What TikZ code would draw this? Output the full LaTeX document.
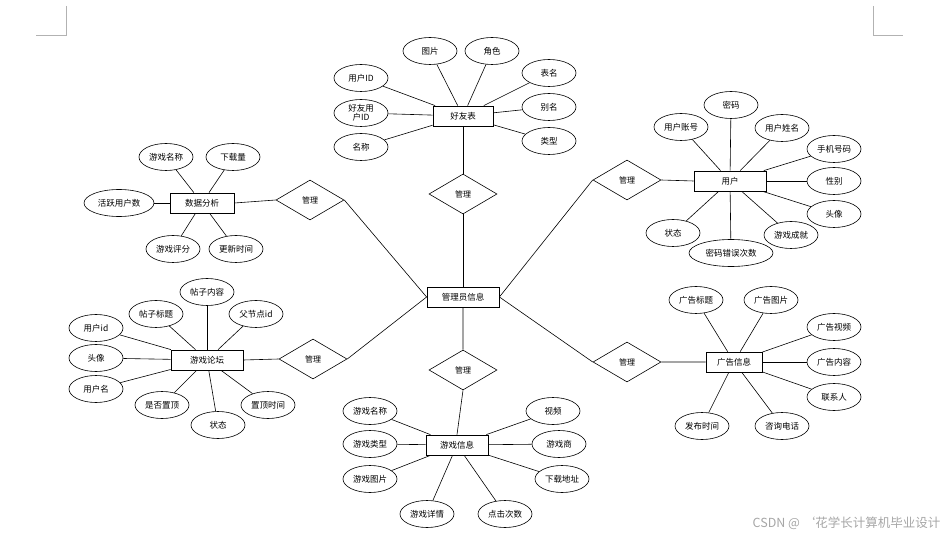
\documentclass[tikz,border=0pt]{standalone}
\usepackage{fontspec}
\setmainfont{Noto Sans CJK SC}
\usetikzlibrary{shapes.geometric}
\begin{document}
\begin{tikzpicture}[x=1pt,y=-1pt,
  ent/.style={draw,thick,fill=white,minimum height=20pt,inner sep=1pt,font=\fontsize{8.5}{9}\selectfont},
  rel/.style={draw,diamond,aspect=1.7,minimum width=68pt,minimum height=40pt,inner sep=0pt,font=\fontsize{8}{9}\selectfont},
  att/.style={draw,ellipse,minimum width=54pt,minimum height=27pt,inner sep=0pt,font=\fontsize{8.5}{9.5}\selectfont,align=center},
  every path/.style={line width=0.6pt}]
\useasboundingbox (0,0) rectangle (946,540);
\draw[gray!60] (66,6)--(66,35)--(36,35) (873,6)--(873,35)--(903,35);
% entities
\node[ent,minimum width=60pt] (hy) at (463,116) {好友表};
\node[ent,minimum width=72pt] (yh) at (730,181) {用户};
\node[ent,minimum width=64pt] (sj) at (202,203) {数据分析};
\node[ent,minimum width=72pt] (gl) at (463,297) {管理员信息};
\node[ent,minimum width=72pt] (lt) at (207,360) {游戏论坛};
\node[ent,minimum width=56pt] (gg) at (734,362) {广告信息};
\node[ent,minimum width=62pt] (yx) at (457,445) {游戏信息};
% relations
\node[rel] (r1) at (463,194) {管理};
\node[rel] (r2) at (627,180) {管理};
\node[rel] (r3) at (310,200) {管理};
\node[rel] (r4) at (313,359) {管理};
\node[rel] (r5) at (463,370) {管理};
\node[rel] (r6) at (627,362) {管理};
\draw (hy)--(r1)--(gl);
\draw (r5.north)--(gl.south) (r5.south)--(yx.north);
\draw (sj.east)--(r3.west) (r3.east)--(gl.west);
\draw (lt.east)--(r4.west) (r4.east)--(gl.west);
\draw (yh.west)--(r2.east) (r2.west)--(gl.east);
\draw (gg.west)--(r6.east) (r6.west)--(gl.east);
% attributes
\foreach \n/\p/\t/\e in {
 a1/{(430,51)}/图片/hy, a2/{(492,51)}/角色/hy, a3/{(361,78)}/用户ID/hy, a4/{(361,113)}/{好友用\\户ID}/hy,
 a5/{(361,147)}/名称/hy, a6/{(549,73)}/表名/hy, a7/{(549,107)}/别名/hy, a8/{(549,141)}/类型/hy,
 b1/{(681,127)}/用户账号/yh, b2/{(731,105)}/密码/yh, b3/{(782,128)}/用户姓名/yh, b4/{(834,149)}/手机号码/yh,
 b5/{(834,181)}/性别/yh, b6/{(834,214)}/头像/yh, b7/{(673,233)}/状态/yh, b9/{(791,235)}/游戏成就/yh,
 c1/{(166,157)}/游戏名称/sj, c2/{(233,157)}/下载量/sj, c4/{(173,249)}/游戏评分/sj, c5/{(236,249)}/更新时间/sj,
 d1/{(207,292)}/帖子内容/lt, d2/{(156,314)}/帖子标题/lt, d3/{(256,314)}/父节点id/lt, d4/{(96,328)}/用户id/lt,
 d5/{(96,358)}/头像/lt, d6/{(96,389)}/用户名/lt, d7/{(162,405)}/是否置顶/lt, d8/{(218,425)}/状态/lt, d9/{(268,405)}/置顶时间/lt,
 e1/{(696,300)}/广告标题/gg, e2/{(771,300)}/广告图片/gg, e3/{(834,327)}/广告视频/gg, e4/{(834,362)}/广告内容/gg,
 e5/{(834,397)}/联系人/gg, e6/{(702,426)}/发布时间/gg, e7/{(782,426)}/咨询电话/gg,
 f1/{(370,411)}/游戏名称/yx, f2/{(370,444)}/游戏类型/yx, f3/{(370,479)}/游戏图片/yx, f4/{(553,411)}/视频/yx,
 f5/{(559,444)}/游戏商/yx, f6/{(562,479)}/下载地址/yx, f7/{(427,514)}/游戏详情/yx, f8/{(505,514)}/点击次数/yx}
{ \node[att] (\n) at \p {\t}; \draw (\n)--(\e); }
\node[att,minimum width=84pt] (b8) at (731,253) {密码错误次数};
\draw (b8)--(yh);
\node[att,minimum width=70pt] (c3) at (119,203) {活跃用户数};
\draw (c3)--(sj);
\node[font=\fontsize{12.5}{14}\selectfont,text=gray!70,anchor=east] (wm) at (944,523) {CSDN @ ‘花学长计算机毕业设计};
\end{tikzpicture}
\end{document}
